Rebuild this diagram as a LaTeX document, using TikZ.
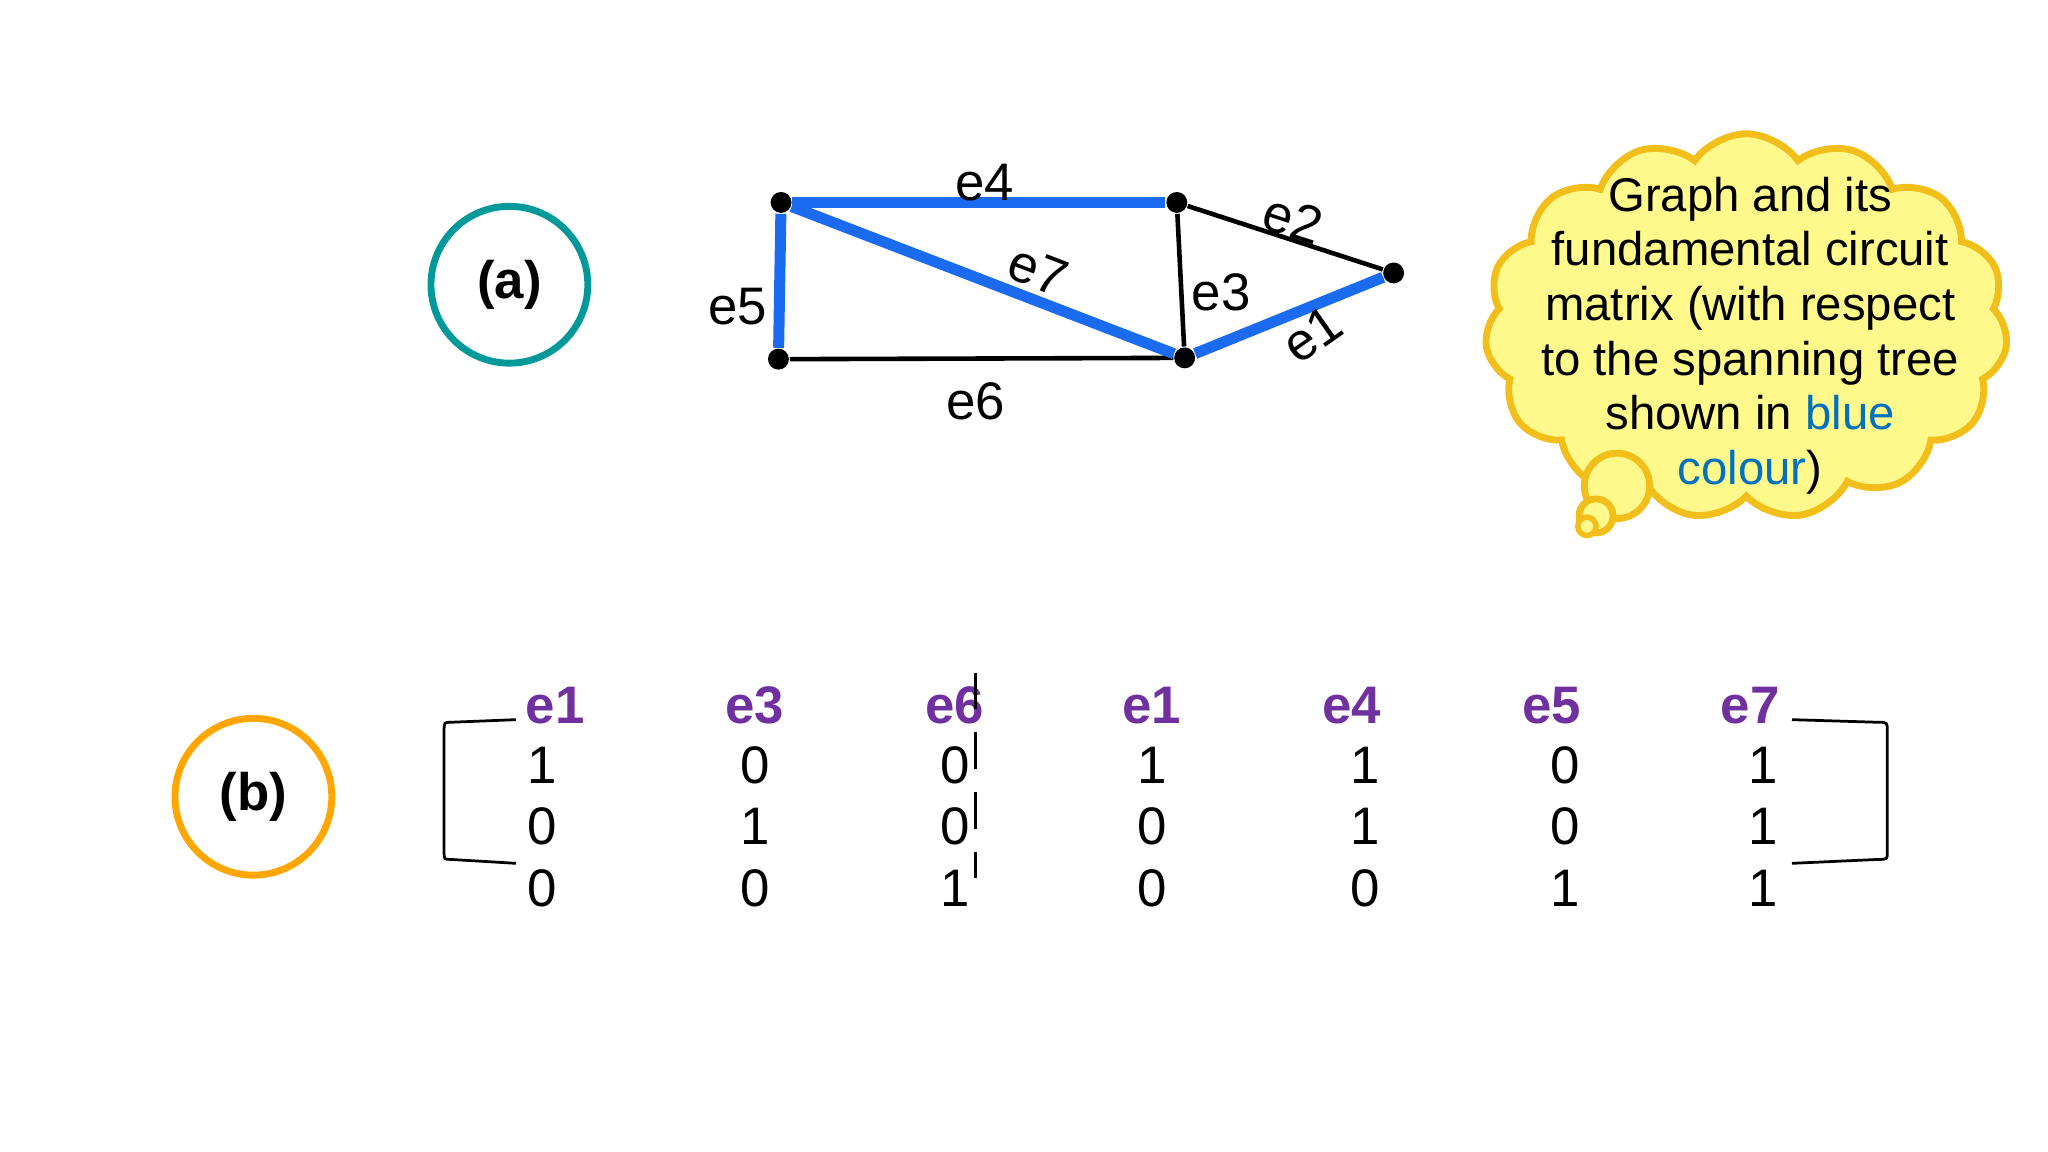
\documentclass[tikz,border=0pt]{standalone}
\usepackage{fontspec}
\setmainfont{Liberation Sans}
\usetikzlibrary{shapes.symbols}
\definecolor{tblue}{HTML}{1A6BF0}
\definecolor{tpurple}{HTML}{7030A0}
\definecolor{cyel}{HTML}{FFF98C}
\definecolor{cbord}{HTML}{F2BF1A}
\definecolor{txtblue}{HTML}{0070C0}
\begin{document}
\begin{tikzpicture}[x=0.01cm,y=-0.01cm,
  vtx/.style={circle,fill=black,inner sep=0pt,minimum size=0.16cm},
  tree/.style={tblue,line width=2.4pt},
  cot/.style={black,line width=1pt},
  lab/.style={font=\fontsize{11.5}{13}\selectfont,inner sep=1pt},
  hd/.style={font=\bfseries\fontsize{11.5}{13}\selectfont,text=tpurple},
  num/.style={font=\fontsize{11.5}{13}\selectfont}]
\useasboundingbox (0,0) rectangle (1568,882);
\node[draw=teal!80!cyan,line width=1.5pt,circle,minimum size=1.2cm,font=\bfseries\fontsize{11.5}{13}\selectfont] (ca) at (390,218) {(a)};
\node[draw=orange!70!yellow,line width=1.5pt,circle,minimum size=1.2cm,font=\bfseries\fontsize{11.5}{13}\selectfont] (cb) at (194,610) {(b)};
\node[vtx] (A) at (598,155) {};
\node[vtx] (B) at (901,155) {};
\node[vtx] (C) at (1067,209) {};
\node[vtx] (D) at (907,274) {};
\node[vtx] (E) at (596,275) {};
\draw[cot] (E) -- (D);
\draw[cot] (B) -- (D);
\draw[cot] (B) -- (C);
\draw[tree] (A) -- (B);
\draw[tree] (A) -- (D);
\draw[tree] (A) -- (E);
\draw[tree] (D) -- (C);
\node[lab] (l4) at (754,140) {e4};
\node[lab,rotate=-21] (l7) at (795,207) {e7};
\node[lab] (l5) at (565,235) {e5};
\node[lab] (l6) at (747,307) {e6};
\node[lab] (l3) at (935,224) {e3};
\node[lab,rotate=-18] (l2) at (990,168) {e2};
\node[lab,rotate=35] (l1) at (1005,256) {e1};
% cloud
\node[cloud,cloud puffs=15,cloud puff arc=110,aspect=1.35,draw=cbord,fill=cyel,line width=1.5pt,minimum width=4.0cm,minimum height=2.95cm] (cl) at (1337,250) {};
\node[draw=cbord,fill=cyel,line width=1.5pt,circle,minimum size=0.5cm,inner sep=0pt] (b1) at (1238,372) {};
\node[draw=cbord,fill=cyel,line width=1.5pt,circle,minimum size=0.26cm,inner sep=0pt] (b2) at (1222,395) {};
\node[draw=cbord,fill=cyel,line width=1.2pt,circle,minimum size=0.14cm,inner sep=0pt] (b3) at (1215,403) {};
\node[align=center,font=\fontsize{10.3}{11.9}\selectfont] (ct) at (1340,257) {Graph and its\\fundamental circuit\\matrix (with respect\\to the spanning tree\\shown in \textcolor{txtblue}{blue}\\\textcolor{txtblue}{colour})};
% matrix
\foreach \x/\t [count=\i] in {425/e1,578/e3,731/e6,882/e1,1035/e4,1188/e5,1340/e7}
  \node[hd] (h\i) at (\x,540) {\t};
\foreach \r/\y/\vals in {1/586/{1,0,0,1,1,0,1},2/633/{0,1,0,0,1,0,1},3/680/{0,0,1,0,0,1,1}}{
  \foreach \v [count=\j] in \vals {
    \pgfmathsetmacro{\xx}{{415,578,731,882,1045,1198,1350}[\j-1]}
    \node[num] (m\r\j) at (\xx,\y) {\v};
  }
}
\coordinate (dt) at (747,515);
\coordinate (db) at (747,672);
\draw[dash pattern=on 8pt off 5pt,line width=0.6pt] (dt) -- (db);
\coordinate (lt) at (395,551);
\coordinate (lb) at (395,661);
\coordinate (rt) at (1372,551);
\coordinate (rb) at (1372,661);
\draw[line width=0.6pt] (lt) -- (345,553) .. controls (340,553) .. (340,560) -- (340,652) .. controls (340,658) .. (345,658) -- (lb);
\draw[line width=0.6pt] (rt) -- (1438,553) .. controls (1445,553) .. (1445,560) -- (1445,652) .. controls (1445,658) .. (1438,658) -- (rb);
\end{tikzpicture}
\end{document}
